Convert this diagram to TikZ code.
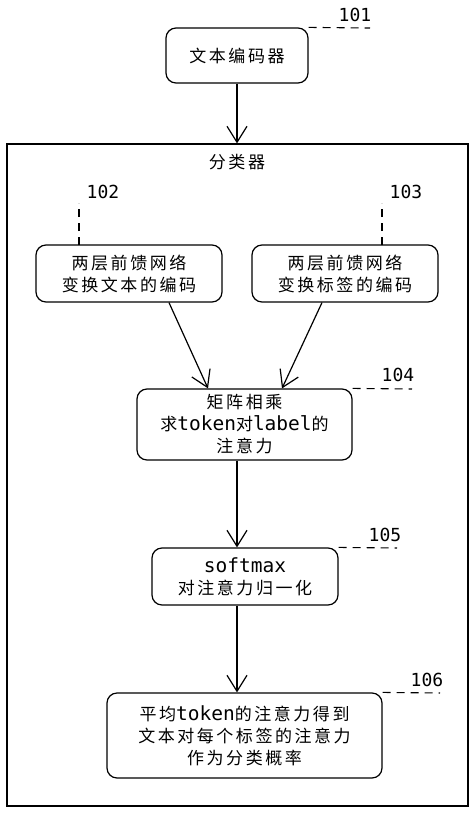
\documentclass[tikz,border=0pt]{standalone}
\usepackage{fontspec}
\setmainfont{Noto Sans CJK SC}[LetterSpace=15]
\newfontfamily\mono{DejaVu Sans Mono}
\usetikzlibrary{arrows.meta,calc}
\tikzset{
  box/.style={draw, line width=1.2pt, rounded corners=10pt, align=center, inner sep=0pt,
    font=\fontsize{17}{22}\selectfont},
  arr/.style={line width=1.2pt, -{Straight Barb[length=16pt,width=20pt,line width=1.2pt]}},
  lead/.style={line width=1.1pt, dash pattern=on 8pt off 6pt},
  num/.style={font=\mono\fontsize{18}{18}\selectfont, inner sep=0pt},
}
\newcommand{\mt}[1]{{\mono\fontsize{19.5}{22}\selectfont #1}}
\begin{document}
\begin{tikzpicture}[x=1pt,y=-1pt]
\useasboundingbox (0,0) rectangle (474,814);
% outer classifier
\node[draw, line width=1.2pt, minimum width=461pt, minimum height=662pt, inner sep=0pt] (cls) at (237.5,475) {};
\node[font=\fontsize{17}{18}\selectfont, inner sep=0pt] (clsl) at (237,162) {分类器};
% boxes
\node[box, minimum width=142pt, minimum height=55pt] (b101) at (237,55.5) {文本编码器};
\node[box, minimum width=186pt, minimum height=57pt] (b102) at (129,273.5) {两层前馈网络\\变换文本的编码};
\node[box, minimum width=186pt, minimum height=57pt] (b103) at (345,273.5) {两层前馈网络\\变换标签的编码};
\node[box, minimum width=215pt, minimum height=71pt] (b104) at (244.5,424.5) {矩阵相乘\\求\mt{token}对\mt{label}的\\注意力};
\node[box, minimum width=186pt, minimum height=57pt] (b105) at (245,576.5) {\mt{softmax}\\对注意力归一化};
\node[box, minimum width=275pt, minimum height=85pt] (b106) at (244.5,735.5) {平均\mt{token}的注意力得到\\文本对每个标签的注意力\\作为分类概率};
% arrows
\draw[arr] (b101.south -| b101) -- (cls.north -| b101);
\draw[arr] ([xshift=40pt]b102.south) -- ([xshift=-36.5pt]b104.north);
\draw[arr] ([xshift=-23pt]b103.south) -- ([xshift=37.5pt]b104.north);
\draw[arr] (b104.south -| b101) -- (b105.north -| b101);
\draw[arr] (b105.south -| b101) -- (b106.north -| b101);
% leaders and labels
\coordinate (e101) at (370,28);
\draw[lead] (b101.north east) -- (e101);
\node[num] (n101) at (355,15) {101};
\coordinate (s102) at (79,245);
\coordinate (e102) at (79,203);
\draw[lead] (s102) -- (e102);
\node[num] (n102) at (103,192) {102};
\coordinate (s103) at (382,245);
\coordinate (e103) at (382,203);
\draw[lead] (s103) -- (e103);
\node[num] (n103) at (406,192) {103};
\coordinate (e104) at (412,389);
\draw[lead] (b104.north east) -- (e104);
\node[num] (n104) at (398,375) {104};
\coordinate (e105) at (397,548);
\draw[lead] (b105.north east) -- (e105);
\node[num] (n105) at (385,535) {105};
\coordinate (e106) at (440,693);
\draw[lead] (b106.north east) -- (e106);
\node[num] (n106) at (427,680) {106};
\end{tikzpicture}
\end{document}
